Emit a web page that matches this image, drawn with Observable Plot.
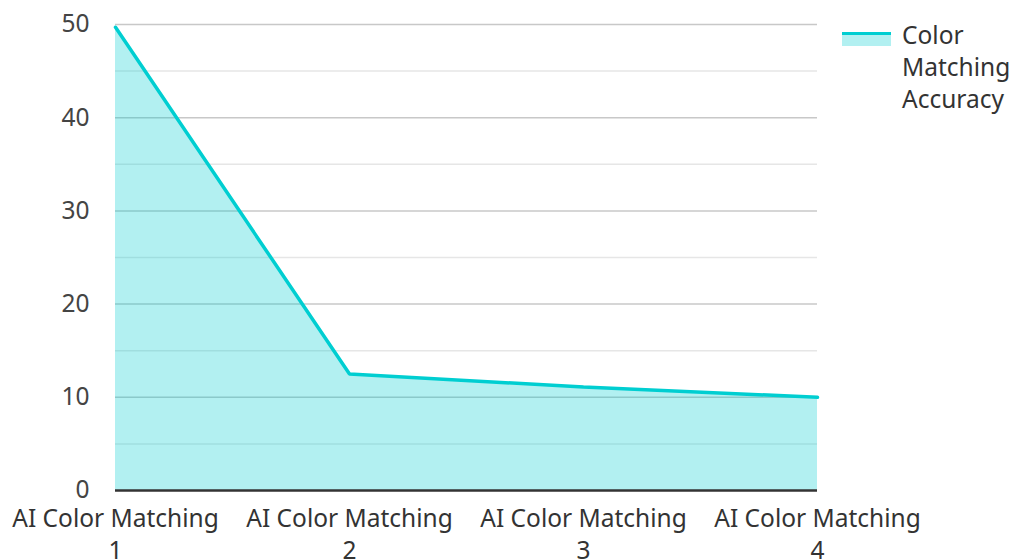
<!DOCTYPE html>
<html>
<head>
<meta charset="utf-8">
<script src="https://cdn.jsdelivr.net/npm/d3@7"></script>
<script src="https://cdn.jsdelivr.net/npm/@observablehq/plot@0.6"></script>
<style>
  html, body { margin: 0; padding: 0; background: #fff; }
  #wrap { position: relative; width: 1014px; height: 560px; font-family: "Noto Sans", sans-serif; }
  #legend { position: absolute; left: 842px; top: 19px; display: flex; align-items: flex-start; color: #333; font-size: 24.5px; line-height: 32px; }
  #legend .sw { width: 49px; height: 14px; background: rgba(0,206,209,0.3); border-top: 3px solid #00CED1; box-sizing: border-box; margin-top: 13px; margin-right: 11px; }
</style>
</head>
<body>
<div id="wrap"></div>
<script>
const categories = ["AI Color Matching\n1", "AI Color Matching\n2", "AI Color Matching\n3", "AI Color Matching\n4"];
const accuracy = [49.7, 12.5, 11.1, 10.0];
const seriesName = "Color Matching Accuracy";
const majorTicks = [0, 10, 20, 30, 40, 50];
const minorTicks = [5, 15, 25, 35, 45];

const data = categories.map((c, i) => ({category: c, value: accuracy[i]}));

const chart = Plot.plot({
  width: 1014,
  height: 560,
  marginLeft: 115,
  marginRight: 197,
  marginTop: 24,
  marginBottom: 70,
  style: {fontFamily: "Noto Sans, sans-serif", fontSize: "24.5px", color: "#444", background: "white"},
  x: {type: "point", domain: categories, padding: 0},
  y: {domain: [0, 50]},
  marks: [
    Plot.ruleY(minorTicks, {stroke: "#e6e6e6", strokeWidth: 1.5}),
    Plot.ruleY(majorTicks.filter(d => d > 0), {stroke: "#c8c8c8", strokeWidth: 1.5}),
    Plot.areaY(data, {x: "category", y: "value", fill: "#00CED1", fillOpacity: 0.3}),
    Plot.lineY(data, {x: "category", y: "value", stroke: "#00CED1", strokeWidth: 3.5, strokeLinejoin: "miter"}),
    Plot.ruleY([0], {stroke: "#333", strokeWidth: 2.5}),
    Plot.axisY({ticks: majorTicks, tickSize: 0, tickPadding: 26, label: null, fill: "#444", fontSize: 24.5}),
    Plot.axisX({tickSize: 0, tickPadding: 14, label: null, fill: "#333", fontSize: 24.5, lineHeight: 1.3})
  ]
});

const wrap = document.getElementById("wrap");
wrap.appendChild(chart);
const legend = document.createElement("div");
legend.id = "legend";
legend.innerHTML = '<div class="sw"></div><div>Color<br>Matching<br>Accuracy</div>';
wrap.appendChild(legend);
</script>
</body>
</html>
